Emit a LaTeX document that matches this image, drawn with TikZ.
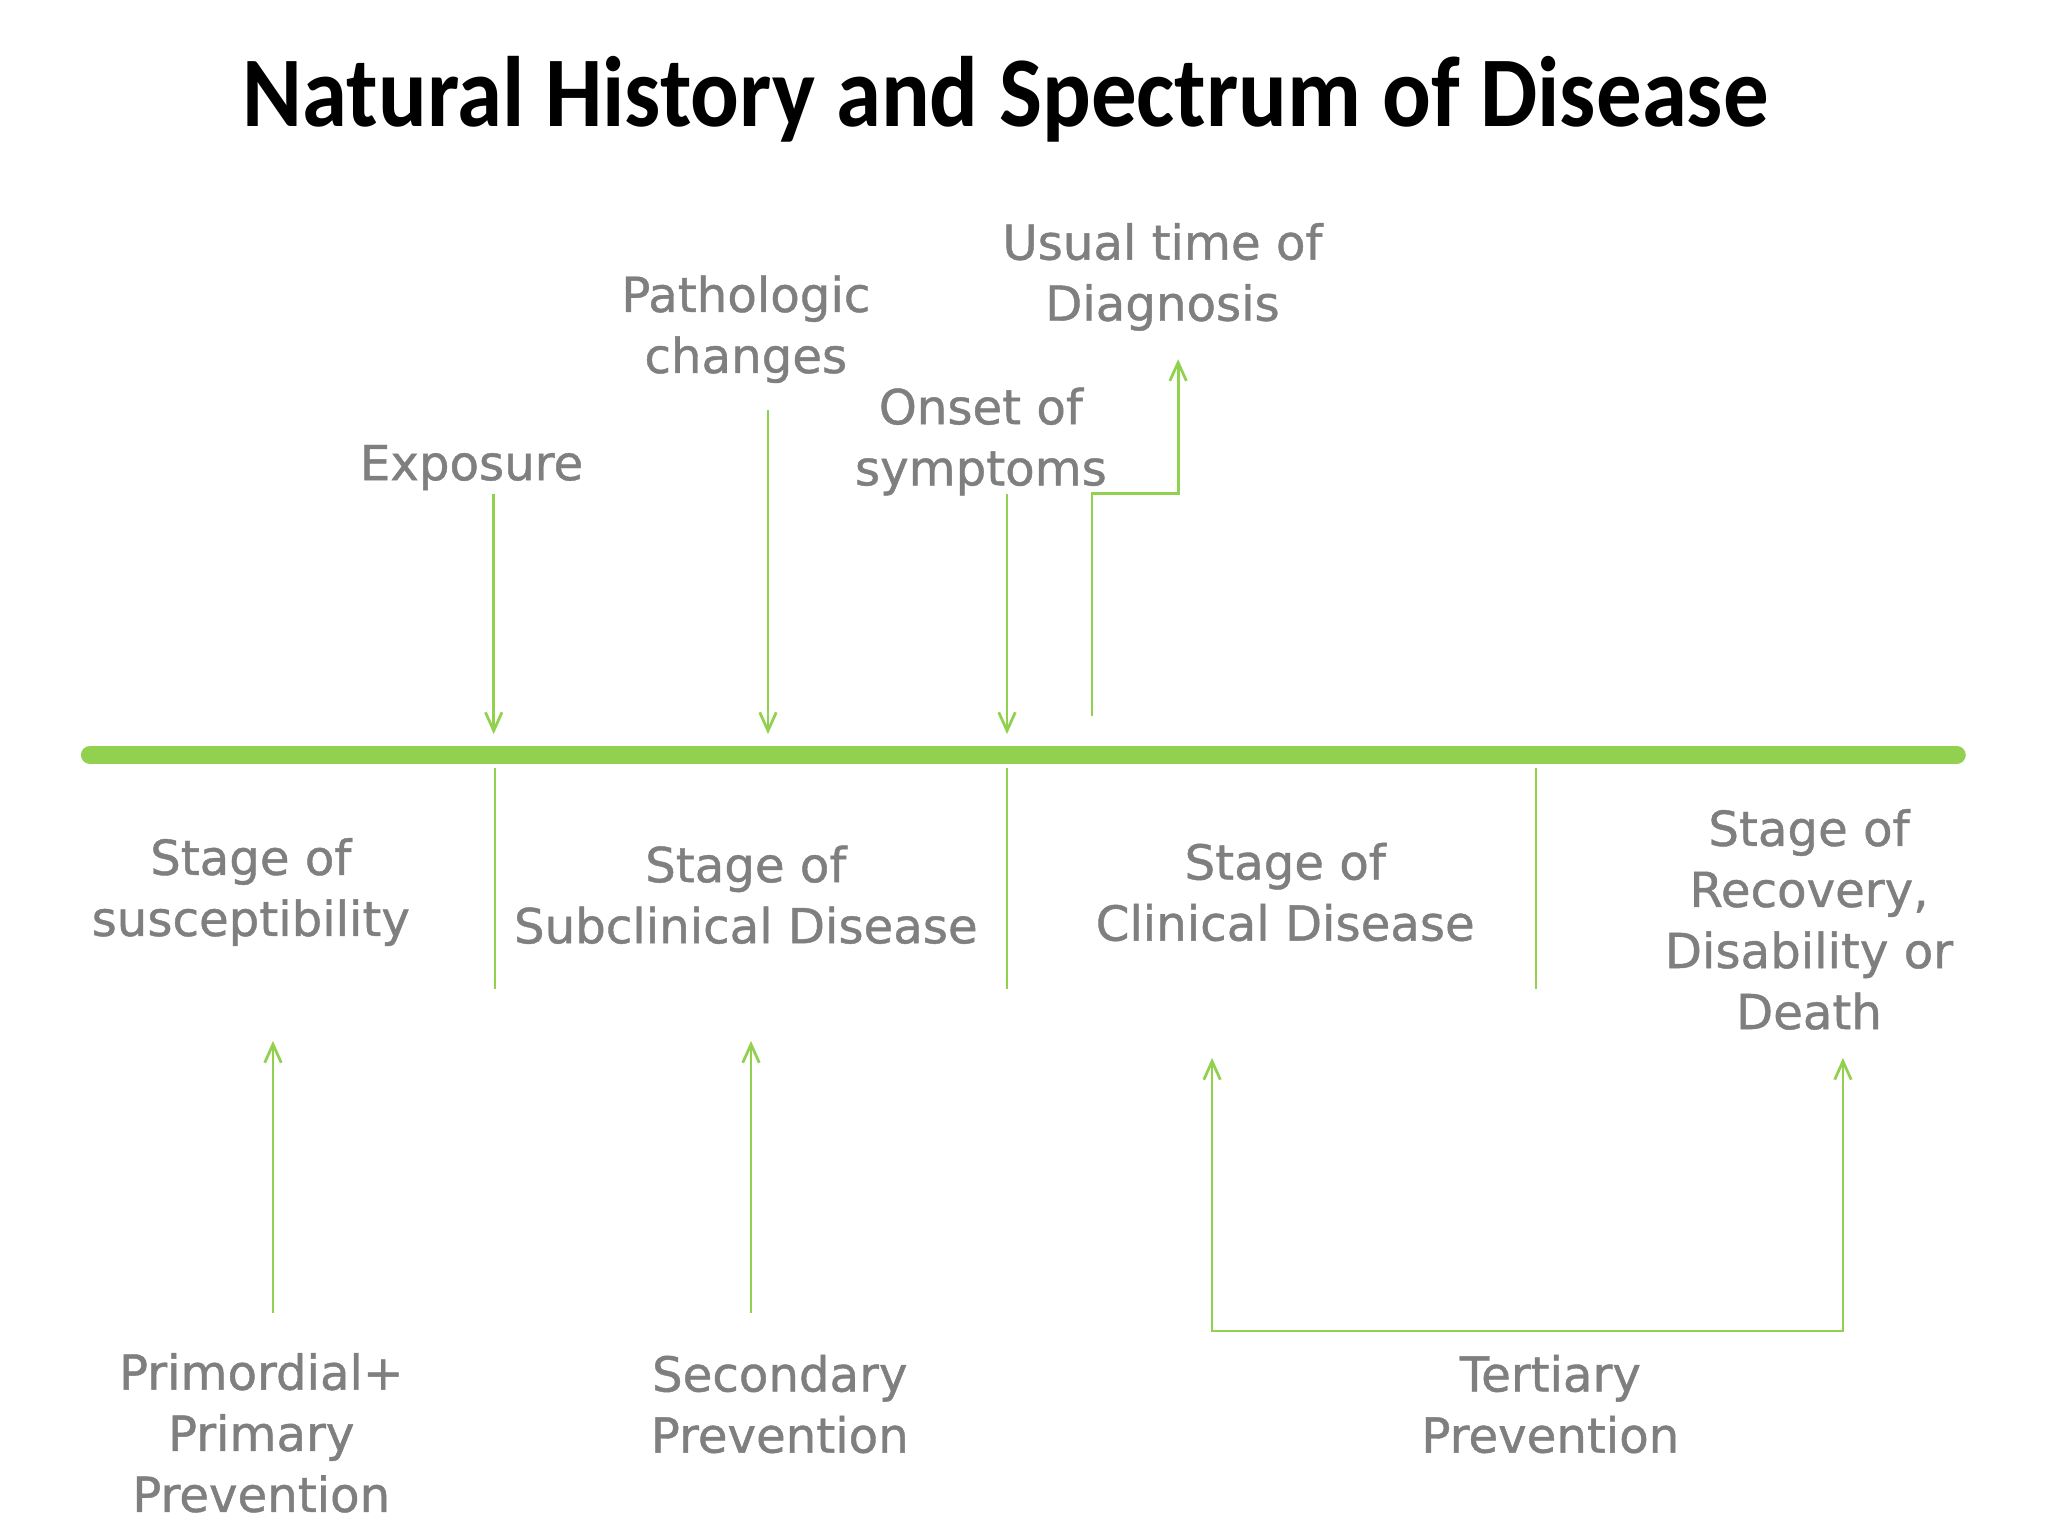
\documentclass[tikz,border=0pt]{standalone}
\usepackage{fontspec}
\setmainfont{DejaVu Sans}
\newfontfamily\lblfont{DejaVu Sans}[FakeBold=0.9]
\newfontfamily\titlefont{Carlito}
\usetikzlibrary{arrows.meta}
\definecolor{lgreen}{HTML}{92D050}
\definecolor{tgray}{HTML}{7F7F7F}
\begin{document}
\begin{tikzpicture}[x=0.01cm,y=-0.01cm,
  lbl/.style={text=tgray, font=\lblfont\fontsize{10.5}{13.3}\selectfont, align=center, inner sep=0pt},
  conn/.style={draw=lgreen, line width=0.6pt},
  arr/.style={conn, -{Straight Barb[length=4pt,width=3.6pt]}},
  darr/.style={conn, {Straight Barb[length=4pt,width=3.6pt]}-{Straight Barb[length=4pt,width=3.6pt]}},
  timeline/.style={draw=lgreen, line width=4pt, line cap=round}]
\useasboundingbox (0,0) rectangle (1568,1176);
\fill[white] (0,0) rectangle (1568,1176);

\node[font=\titlefont\bfseries\fontsize{19.8}{22}\selectfont, text=black, anchor=base, inner sep=0pt] (title) at (770,97) {\scalebox{1}[1.1]{Natural History and Spectrum of Disease}};

% timeline
\coordinate (tl1) at (69,578);
\coordinate (tl2) at (1498,578);
\draw[timeline] (tl1) -- (tl2);

% upper labels
\node[lbl] (expo) at (361,358) {Exposure};
\node[lbl] (patho) at (571,252) {Pathologic\\changes};
\node[lbl] (onset) at (751,338) {Onset of\\symptoms};
\node[lbl] (usual) at (890,212) {Usual time of\\Diagnosis};

\coordinate (e1) at (378,378);  \coordinate (e2) at (378,562);
\coordinate (pa1) at (588,314); \coordinate (pa2) at (588,562);
\coordinate (o1) at (771,378);  \coordinate (o2) at (771,562);
\coordinate (d0) at (836,548);  \coordinate (d1) at (836,378);
\coordinate (d2) at (902,378);  \coordinate (d3) at (902,275);
\draw[arr] (e1) -- (e2);
\draw[arr] (pa1) -- (pa2);
\draw[arr] (o1) -- (o2);
\draw[arr] (d0) -- (d1) -- (d2) -- (d3);

% separators
\coordinate (v1a) at (379,588); \coordinate (v1b) at (379,757);
\coordinate (v2a) at (771,588); \coordinate (v2b) at (771,757);
\coordinate (v3a) at (1176,588); \coordinate (v3b) at (1176,757);
\draw[conn] (v1a) -- (v1b);
\draw[conn] (v2a) -- (v2b);
\draw[conn] (v3a) -- (v3b);

% stage labels
\node[lbl] (s1) at (192,683) {Stage of\\susceptibility};
\node[lbl] (s2) at (571,685) {Stage of\\Subclinical Disease};
\node[lbl] (s3) at (984,683) {Stage of\\Clinical Disease};
\node[lbl] (s4) at (1385,704) {Stage of\\Recovery,\\Disability or\\Death};

% prevention labels
\node[lbl] (p1) at (200,1097) {Primordial+\\Primary\\Prevention};
\node[lbl] (p2) at (597,1075) {Secondary\\Prevention};
\node[lbl] (p3) at (1187,1075) {Tertiary\\Prevention};

\coordinate (a1a) at (209,1005); \coordinate (a1b) at (209,797);
\coordinate (a2a) at (575,1005); \coordinate (a2b) at (575,797);
\draw[arr] (a1a) -- (a1b);
\draw[arr] (a2a) -- (a2b);
\coordinate (t1) at (928,810); \coordinate (t2) at (928,1019);
\coordinate (t3) at (1411,1019); \coordinate (t4) at (1411,810);
\draw[darr] (t1) -- (t2) -- (t3) -- (t4);
\end{tikzpicture}
\end{document}
